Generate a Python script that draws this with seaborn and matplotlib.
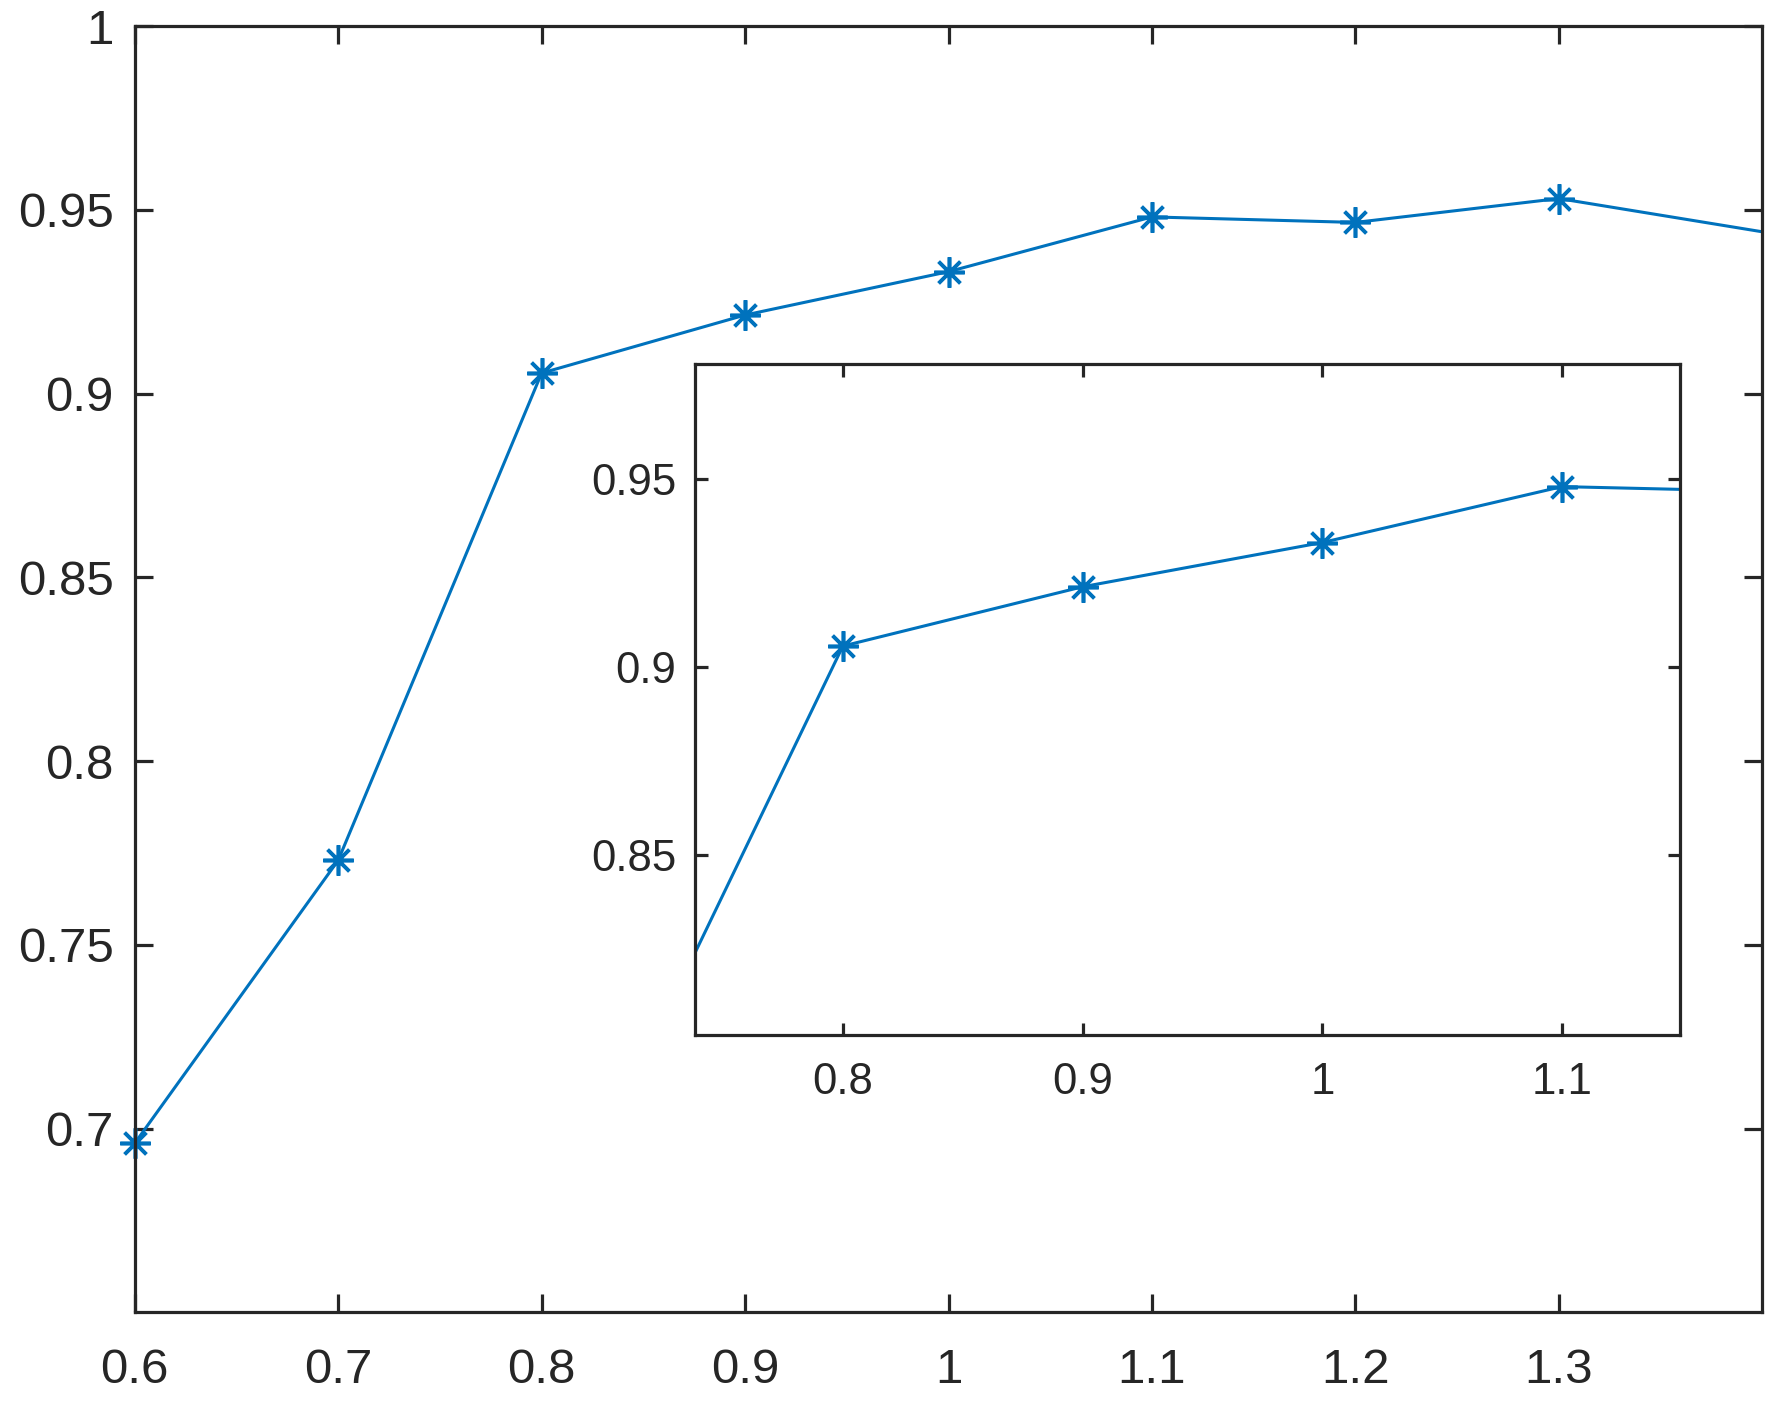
import pandas as pd
import matplotlib
matplotlib.use('Agg')
import matplotlib.pyplot as plt
import seaborn as sns

# values
x_vals = [0.6, 0.7, 0.8, 0.9, 1.0, 1.1, 1.2, 1.3, 1.5]
y_vals = [0.696, 0.773, 0.9056, 0.9214, 0.9332, 0.9481, 0.9466, 0.9531, 0.935]

main_xticks = [0.6, 0.7, 0.8, 0.9, 1.0, 1.1, 1.2, 1.3]
main_xlabels = ['0.6', '0.7', '0.8', '0.9', '1', '1.1', '1.2', '1.3']
main_yticks = [0.7, 0.75, 0.8, 0.85, 0.9, 0.95, 1.0]
main_ylabels = ['0.7', '0.75', '0.8', '0.85', '0.9', '0.95', '1']

inset_xticks = [0.8, 0.9, 1.0, 1.1]
inset_xlabels = ['0.8', '0.9', '1', '1.1']
inset_yticks = [0.85, 0.9, 0.95]
inset_ylabels = ['0.85', '0.9', '0.95']

df = pd.DataFrame({'x': x_vals, 'y': y_vals})

sns.set_theme(style='white')
plt.rcParams['font.family'] = ['Liberation Sans', 'DejaVu Sans']

line_color = '#0072BD'
axis_color = '#262626'
star = (8, 2, 0)


def style_axes(ax, xlim, ylim, xticks, xlabels, yticks, ylabels, fs, ticklen, xpad, ypad):
    ax.set_xlim(*xlim)
    ax.set_ylim(*ylim)
    ax.set_xticks(xticks)
    ax.set_xticklabels(xlabels)
    ax.set_yticks(yticks)
    ax.set_yticklabels(ylabels)
    ax.set_xlabel('')
    ax.set_ylabel('')
    for sp in ax.spines.values():
        sp.set_visible(True)
        sp.set_color(axis_color)
        sp.set_linewidth(2.3)
    ax.tick_params(direction='in', length=ticklen, width=2.3, color=axis_color,
                   labelcolor=axis_color, labelsize=fs,
                   top=True, right=True, bottom=True, left=True)
    ax.tick_params(axis='x', pad=xpad)
    ax.tick_params(axis='y', pad=ypad)
    ax.set_facecolor('white')


def draw_series(ax, xlim):
    sns.lineplot(data=df, x='x', y='y', ax=ax, color=line_color, linewidth=2.2,
                 estimator=None, sort=False)
    inside = df[(df['x'] >= xlim[0] - 1e-9) & (df['x'] <= xlim[1] + 1e-9)]
    sns.lineplot(data=inside, x='x', y='y', ax=ax, color=line_color, linestyle='',
                 marker=star, markersize=22, markeredgewidth=2.6, mec=line_color,
                 estimator=None, sort=False, clip_on=False)


fig = plt.figure(figsize=(17.87, 14.17), dpi=100)

# main axes
main_xlim = (0.6, 1.4)
ax = fig.add_axes([0.0754, 0.0739, 0.9108, 0.9076])
draw_series(ax, main_xlim)
style_axes(ax, main_xlim, (0.65, 1.0), main_xticks, main_xlabels,
           main_yticks, main_ylabels, fs=35.5, ticklen=13, xpad=26, ypad=15)

# inset axes
inset_xlim = (0.7383, 1.149)
axin = fig.add_axes([0.3889, 0.2698, 0.5510, 0.4731])
draw_series(axin, inset_xlim)
style_axes(axin, inset_xlim, (0.802, 0.9807), inset_xticks, inset_xlabels,
           inset_yticks, inset_ylabels, fs=31.5, ticklen=9, xpad=20, ypad=13.5)

fig.savefig('out.png', dpi=100, facecolor='white')
